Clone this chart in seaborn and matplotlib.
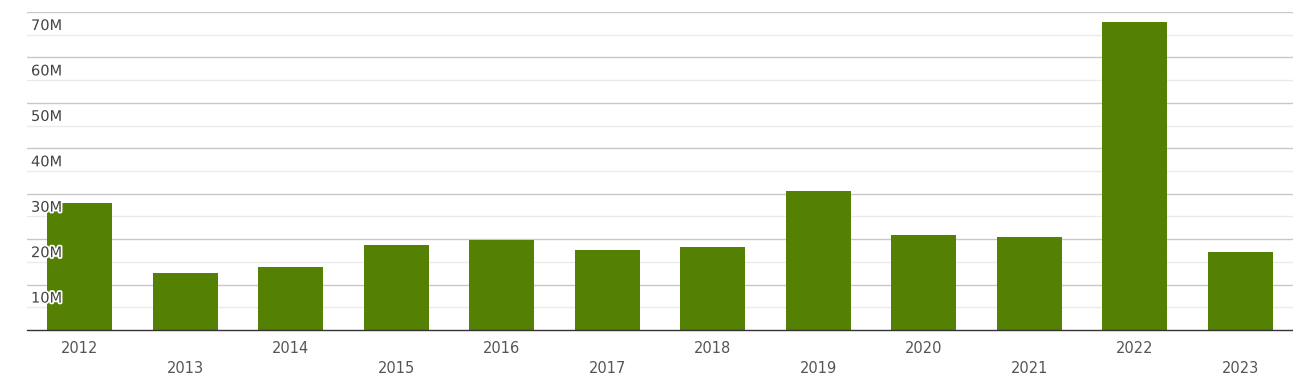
import matplotlib
matplotlib.use("Agg")
import matplotlib.pyplot as plt
import matplotlib.patheffects as pe
import matplotlib.transforms as mtransforms
import seaborn as sns
import pandas as pd

years = ["2012", "2013", "2014", "2015", "2016", "2017", "2018", "2019", "2020", "2021", "2022", "2023"]
values_m = [28.0, 12.6, 13.9, 18.7, 19.9, 17.7, 18.3, 30.7, 21.0, 20.5, 67.8, 17.2]
ytick_vals = [10, 20, 30, 40, 50, 60, 70]
ytick_labels = ["10M", "20M", "30M", "40M", "50M", "60M", "70M"]
minor_vals = [5, 15, 25, 35, 45, 55, 65]

df = pd.DataFrame({"year": years, "value": values_m})

sns.set_theme(style="white")
plt.rcParams['font.family'] = ['DejaVu Sans']

fig = plt.figure(figsize=(12.93, 3.84), dpi=100)
ax = fig.add_axes([27 / 1293, 1 - 330 / 384, (1293 - 27) / 1293, (330 - 12) / 384])

sns.barplot(data=df, x="year", y="value", color="#548003", saturation=1,
            width=0.62, ax=ax, zorder=3, linewidth=0, edgecolor="none")

ax.set_ylim(0, 70)
ax.set_xlim(-0.5, len(years) - 0.5)

for v in ytick_vals:
    ax.axhline(v, color="#c8c8c8", lw=1, zorder=1)
for v in minor_vals:
    ax.axhline(v, color="#ebebeb", lw=1, zorder=1)

for s in ["top", "right", "left"]:
    ax.spines[s].set_visible(False)
ax.spines["bottom"].set_color("#333333")
ax.spines["bottom"].set_linewidth(1)
ax.spines["bottom"].set_zorder(5)

ax.set_yticks([])
ax.set_ylabel("")
ax.set_xlabel("")

trans = mtransforms.blended_transform_factory(ax.transAxes, ax.transData)
for v, lab in zip(ytick_vals, ytick_labels):
    t = ax.text(4 / 1266, v, lab, ha="left", va="top",
                fontsize=10.5, color="#444444", zorder=6,
                transform=trans + mtransforms.ScaledTranslation(0, -6 / 100, fig.dpi_scale_trans))
    t.set_path_effects([pe.withStroke(linewidth=2.5, foreground="white")])

xt_labels = [y if i % 2 == 0 else "\n" + y for i, y in enumerate(years)]
ax.set_xticks(range(len(years)))
ax.set_xticklabels(xt_labels, fontsize=10.5, color="#555555", linespacing=1.4)
ax.tick_params(axis="x", length=0, pad=8)

fig.savefig("out.png", dpi=100)
